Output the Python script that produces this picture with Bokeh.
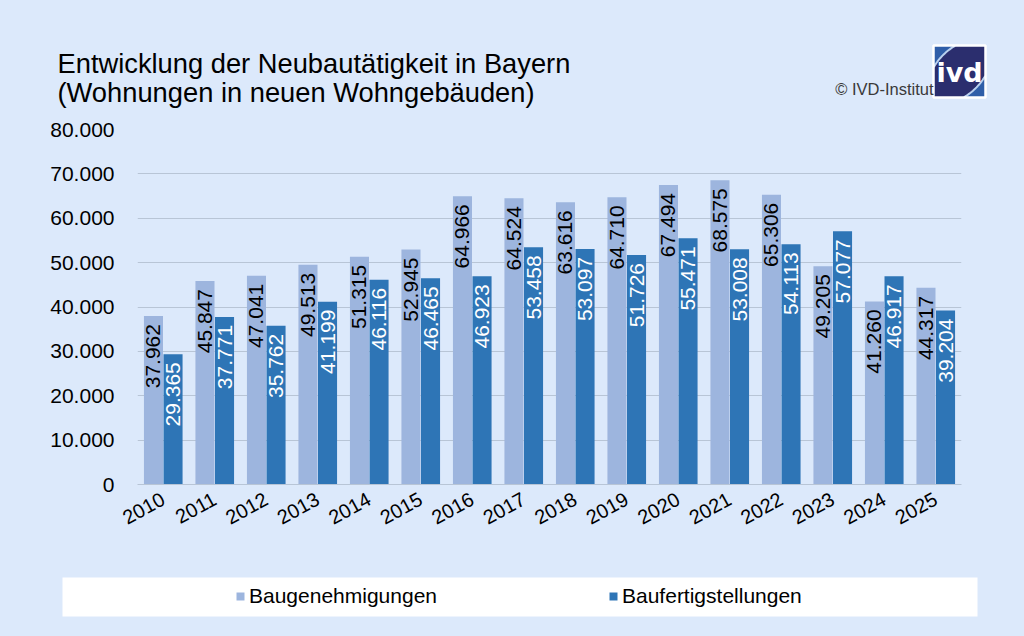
import numpy as np
from bokeh.plotting import figure
from bokeh.layouts import column, row
from bokeh.models import (ColumnDataSource, FactorRange, Range1d, LabelSet, Label,
                          Legend, LegendItem, CustomJSTickFormatter, FixedTicker)
from bokeh.transform import dodge
from bokeh.core.properties import value
from bokeh.embed import file_html
from bokeh.resources import INLINE

# --- data -------------------------------------------------------------------
years = [str(y) for y in range(2010, 2026)]
baugenehmigungen = [37962, 45847, 47041, 49513, 51315, 52945, 64966, 64524,
                    63616, 64710, 67494, 68575, 65306, 49205, 41260, 44317]
baufertigstellungen = [29365, 37771, 35762, 41199, 46116, 46465, 46923, 53458,
                       53097, 51726, 55471, 53008, 54113, 57077, 46917, 39204]
series_names = ["Baugenehmigungen", "Baufertigstellungen"]
y_ticks = [0, 10000, 20000, 30000, 40000, 50000, 60000, 70000, 80000]
title_lines = ["Entwicklung der Neubautätigkeit in Bayern",
               "(Wohnungen in neuen Wohngebäuden)"]
copyright_text = "© IVD-Institut"

# --- style ------------------------------------------------------------------
BG = "#dce9fb"
LIGHT = "#9db5de"
DARK = "#2e75b6"
GRID = "#b8c5d6"
NAVY = "#2b2e6e"
FONT = "Liberation Sans"
W_PAGE = 1024
H_HEAD, H_CHART, H_LEG = 116, 454, 66
BG_STYLE = {"background-color": BG}


def de_num(v):
    return f"{v:,}".replace(",", ".")


def blank(height):
    """A figure without axes whose data units are pixels (y grows downward)."""
    f = figure(width=W_PAGE, height=height, x_range=Range1d(0, W_PAGE),
               y_range=Range1d(height, 0), output_backend="svg",
               toolbar_location=None, min_border=0,
               x_axis_location=None, y_axis_location=None,
               background_fill_color=BG, border_fill_color=BG,
               outline_line_color=None, styles=BG_STYLE)
    f.grid.visible = False
    return f


# --- header: title, copyright, logo -----------------------------------------
head = blank(H_HEAD)
for txt, base in zip(title_lines, (63, 91.5)):
    head.add_layout(Label(x=57, y=base, text=txt, text_baseline="alphabetic",
                          text_font=FONT, text_font_size="27.3px",
                          text_color="#000000"))
head.add_layout(Label(x=933, y=88, text=copyright_text, text_align="right",
                      text_baseline="alphabetic", text_font=FONT,
                      text_font_size="16.5px", text_color="#3a3a3a"))

# logo: navy tile with two arcs cutting the opposite corners
L0, R0, T0, B0 = 933, 985, 45, 97
head.quad(left=[L0], right=[R0], top=[T0], bottom=[B0],
          fill_color=NAVY, line_color=None)
rad = 60
for (cx, cy), (a0, a1) in (((R0, B0), (np.pi, 1.5 * np.pi)),
                           ((L0, T0), (0.0, 0.5 * np.pi))):
    t = np.linspace(a0, a1, 60)
    ax = cx + rad * np.cos(t)
    ay = cy + rad * np.sin(t)
    keep = (ax >= L0) & (ax <= R0) & (ay >= T0) & (ay <= B0)
    ax, ay = ax[keep], ay[keep]
    corner = (L0, T0) if cx == R0 else (R0, B0)
    head.patch(np.r_[ax, corner[0]], np.r_[ay, corner[1]],
               fill_color="#2f5ea8", line_color=None)
    head.line(ax, ay, line_color="#b9d0ee", line_width=2)
head.quad(left=[L0], right=[R0], top=[T0], bottom=[B0],
          fill_color=None, line_color="#ffffff", line_width=2.5)
head.add_layout(Label(x=959, y=72, text="ivd", text_align="center",
                      text_baseline="middle", text_font="DejaVu Sans",
                      text_font_style="bold", text_font_size="27px",
                      text_color="#ffffff"))

# --- chart ------------------------------------------------------------------
src = ColumnDataSource(dict(
    year=years,
    gen=baugenehmigungen,
    fer=baufertigstellungen,
    gen_lbl=[de_num(v) for v in baugenehmigungen],
    fer_lbl=[de_num(v) for v in baufertigstellungen],
))

p = figure(width=W_PAGE, height=H_CHART,
           x_range=FactorRange(*years), y_range=Range1d(0, 80000),
           output_backend="svg", toolbar_location=None,
           min_border_left=137, min_border_right=63,
           min_border_top=129 - H_HEAD, min_border_bottom=H_CHART - (484 - H_HEAD),
           background_fill_color=BG, border_fill_color=BG,
           outline_line_color=None, styles=BG_STYLE)

OFF = 0.19
W = 0.37
r_gen = p.vbar(x=dodge("year", -OFF, range=p.x_range), top="gen", width=W,
               source=src, fill_color=LIGHT, line_color=None)
r_fer = p.vbar(x=dodge("year", OFF, range=p.x_range), top="fer", width=W,
               source=src, fill_color=DARK, line_color=None)

# value labels, rotated, just inside the bar tops
for col, lbl, off, color in (("gen", "gen_lbl", -OFF, "#000000"),
                             ("fer", "fer_lbl", OFF, "#ffffff")):
    p.add_layout(LabelSet(x=dodge("year", off, range=p.x_range), y=col, text=lbl,
                          source=src, angle=np.pi / 2, y_offset=-8,
                          text_align="right", text_baseline="middle",
                          text_font=value(FONT), text_font_size="21px",
                          text_color=color))

p.yaxis.ticker = FixedTicker(ticks=y_ticks)
p.yaxis.formatter = CustomJSTickFormatter(
    code=r"return tick.toFixed(0).replace(/\B(?=(\d{3})+(?!\d))/g, '.');")
p.yaxis.axis_line_color = None
p.yaxis.major_tick_line_color = None
p.yaxis.minor_tick_line_color = None
p.yaxis.major_label_standoff = 17
p.yaxis.major_label_text_font = FONT
p.yaxis.major_label_text_font_size = "21px"
p.yaxis.major_label_text_color = "#000000"

p.xaxis.axis_line_color = GRID
p.xaxis.major_tick_line_color = None
p.xaxis.major_label_orientation = 0.5
p.xaxis.major_label_standoff = 7
p.xaxis.major_label_text_font = FONT
p.xaxis.major_label_text_font_size = "20px"
p.xaxis.major_label_text_color = "#000000"

p.xgrid.grid_line_color = None
p.ygrid.grid_line_color = GRID
p.ygrid.grid_line_width = 1

# --- legend band ------------------------------------------------------------
leg = blank(H_LEG)
leg.quad(left=[62], right=[977], top=[7], bottom=[46],
         fill_color="#ffffff", line_color=None)
# zero-size swatch renderers that only supply the legend glyph styling
swatch = ColumnDataSource(dict(x=[0], top=[0]))
sw_gen = leg.vbar(x="x", top="top", width=0, source=swatch,
                  fill_color=LIGHT, line_color=None)
sw_fer = leg.vbar(x="x", top="top", width=0, source=swatch,
                  fill_color=DARK, line_color=None)
legend = Legend(items=[LegendItem(label=series_names[0], renderers=[sw_gen]),
                       LegendItem(label=series_names[1], renderers=[sw_fer])],
                orientation="horizontal", location=(235, 28),
                background_fill_alpha=0, border_line_color=None,
                padding=4, margin=0, spacing=0,
                glyph_width=10, glyph_height=10, label_standoff=4,
                label_width=359, label_text_font=FONT,
                label_text_font_size="21px", label_text_color="#000000")
leg.add_layout(legend, "center")

# header and legend band are wrapped so their frames keep the full page width
page = column(row(head, styles=BG_STYLE), p, row(leg, styles=BG_STYLE),
              spacing=0, styles=BG_STYLE)
open("out.html", "w").write(file_html(page, INLINE))
